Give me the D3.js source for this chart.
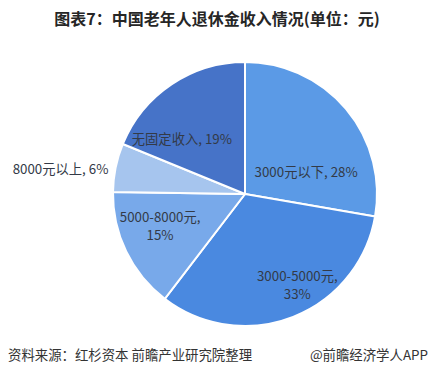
<!DOCTYPE html>
<html><head><meta charset="utf-8">
<script src="https://cdn.jsdelivr.net/npm/d3@7"></script>
<style>
html,body{margin:0;padding:0;background:#fff;}
svg{display:block;font-family:"Noto Sans CJK SC","Noto Sans",sans-serif;}
</style></head>
<body><svg id="c" width="434" height="385"></svg>
<script>
const categories = ["3000元以下", "3000-5000元", "5000-8000元", "8000元以上", "无固定收入"];
const values = [28, 33, 15, 6, 19];
const labelLines = [["3000元以下, 28%"], ["3000-5000元,", "33%"], ["5000-8000元,", "15%"], ["8000元以上, 6%"], ["无固定收入, 19%"]];
const colors = ["#5b9ae6", "#4a89e0", "#78a9ea", "#a6c5ee", "#4673c8"];
// label placement (angle in degrees clockwise from top, radius as fraction of pie radius)
const labelAngle = [71, 150.3, 248.8, 277.7, 310.6];
const labelRadius = [0.49, 0.80, 0.69, 1.41, 0.63];

const svg = d3.select("#c");
const cx = 245, cy = 194, R = 132;

svg.append("text").attr("x", 217).attr("y", 25).attr("text-anchor", "middle")
  .attr("font-size", 16).attr("font-weight", "bold").attr("fill", "#262626")
  .text("图表7：中国老年人退休金收入情况(单位：元)");

const pie = d3.pie().sort(null).value(d => d)(values);
const arc = d3.arc().innerRadius(0).outerRadius(R);
const g = svg.append("g").attr("transform", `translate(${cx},${cy})`);
g.selectAll("path").data(pie).join("path")
  .attr("d", arc).attr("fill", (d, i) => colors[i])
  .attr("stroke", "#fff").attr("stroke-width", 2).attr("stroke-linejoin", "round");

const lg = g.selectAll("text.lab").data(pie).join("text").attr("class", "lab")
  .attr("text-anchor", "middle").attr("font-size", 13.3).attr("fill", "#333a47")
  .attr("transform", (d, i) => {
    const a = labelAngle[i] * Math.PI / 180, r = labelRadius[i] * R;
    return `translate(${r * Math.sin(a)},${-r * Math.cos(a)})`;
  });
lg.each(function (d, i) {
  const lines = labelLines[i];
  const t = d3.select(this);
  const n = lines.length, lh = 18;
  lines.forEach((s, k) => {
    t.append("tspan").attr("x", 0).attr("y", (k - (n - 1) / 2) * lh + 4.5).text(s);
  });
});

svg.append("text").attr("x", 8).attr("y", 360).attr("font-size", 13.4).attr("fill", "#333")
  .text("资料来源：红杉资本 前瞻产业研究院整理");
svg.append("text").attr("x", 428).attr("y", 360).attr("text-anchor", "end").attr("font-size", 13.4).attr("fill", "#333")
  .text("@前瞻经济学人APP");
</script></body></html>
